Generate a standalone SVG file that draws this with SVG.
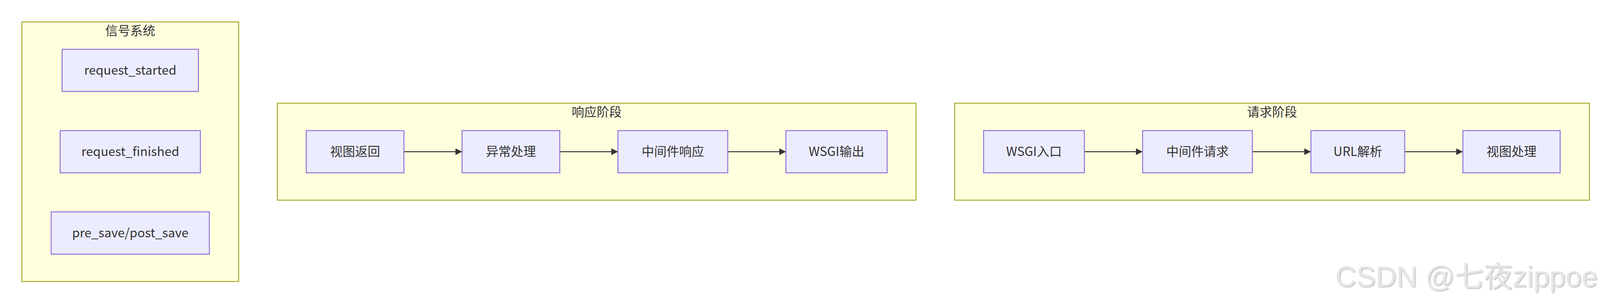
<svg xmlns="http://www.w3.org/2000/svg" width="4124" height="775" viewBox="0 0 4124 775">
<style>
.cluster{fill:#ffffde;stroke:#aaaa33;stroke-width:2.5}
.node{fill:#ececff;stroke:#9370db;stroke-width:2.5}
.lbl{font-family:"Noto Sans CJK SC","Noto Sans",sans-serif;font-size:32px;fill:#333333;text-anchor:middle}
.edge{stroke:#333333;stroke-width:2.5;fill:none}
.wm{font-family:"Liberation Sans","Noto Sans CJK SC",sans-serif;font-size:74px;fill:#e6e6e6;text-anchor:end}
</style>
<defs>
<marker id="arrow" viewBox="0 0 10 10" refX="10" refY="5" markerUnits="userSpaceOnUse" markerWidth="17" markerHeight="17" orient="auto">
<path d="M0,0 L10,5 L0,10 z" fill="#333333"/>
</marker>
<filter id="shadow" x="-5%" y="-20%" width="110%" height="140%">
<feDropShadow dx="2" dy="2" stdDeviation="0.8" flood-color="#a0a0a0" flood-opacity="0.7"/>
</filter>
</defs>
<rect width="4124" height="775" fill="#ffffff"/>

<g id="cluster-signal">
<rect class="cluster" x="56" y="56" width="555" height="664"/>
<text class="lbl" x="333.5" y="90">信号系统</text>
</g>
<g id="cluster-response">
<rect class="cluster" x="710" y="264" width="1635" height="248"/>
<text class="lbl" x="1527.5" y="298">响应阶段</text>
</g>
<g id="cluster-request">
<rect class="cluster" x="2444" y="264" width="1625" height="248"/>
<text class="lbl" x="3256.5" y="298">请求阶段</text>
</g>

<g id="connectors">
<line class="edge" x1="1034" y1="388" x2="1183" y2="388" marker-end="url(#arrow)"/>
<line class="edge" x1="1433" y1="388" x2="1582" y2="388" marker-end="url(#arrow)"/>
<line class="edge" x1="1863" y1="388" x2="2012" y2="388" marker-end="url(#arrow)"/>
<line class="edge" x1="2776" y1="388" x2="2925" y2="388" marker-end="url(#arrow)"/>
<line class="edge" x1="3206" y1="388" x2="3356" y2="388" marker-end="url(#arrow)"/>
<line class="edge" x1="3596" y1="388" x2="3745" y2="388" marker-end="url(#arrow)"/>
</g>

<g id="node-request_started">
<rect class="node" x="159" y="126" width="349" height="108"/>
<text class="lbl" x="333.5" y="191">request_started</text>
</g>
<g id="node-request_finished">
<rect class="node" x="154" y="334" width="359" height="108"/>
<text class="lbl" x="333.5" y="399">request_finished</text>
</g>
<g id="node-pre_save">
<rect class="node" x="131" y="542" width="405" height="108"/>
<text class="lbl" x="333.5" y="607">pre_save/post_save</text>
</g>

<g id="node-view_return">
<rect class="node" x="784" y="334" width="250" height="108"/>
<text class="lbl" x="909" y="399">视图返回</text>
</g>
<g id="node-exception">
<rect class="node" x="1183" y="334" width="250" height="108"/>
<text class="lbl" x="1308" y="399">异常处理</text>
</g>
<g id="node-mw_response">
<rect class="node" x="1582" y="334" width="281" height="108"/>
<text class="lbl" x="1722.5" y="399">中间件响应</text>
</g>
<g id="node-wsgi_out">
<rect class="node" x="2012" y="334" width="259" height="108"/>
<text class="lbl" x="2141.5" y="399">WSGI输出</text>
</g>

<g id="node-wsgi_in">
<rect class="node" x="2518" y="334" width="258" height="108"/>
<text class="lbl" x="2647" y="399">WSGI入口</text>
</g>
<g id="node-mw_request">
<rect class="node" x="2925" y="334" width="281" height="108"/>
<text class="lbl" x="3065.5" y="399">中间件请求</text>
</g>
<g id="node-url">
<rect class="node" x="3356" y="334" width="240" height="108"/>
<text class="lbl" x="3476" y="399">URL解析</text>
</g>
<g id="node-view_process">
<rect class="node" x="3745" y="334" width="249" height="108"/>
<text class="lbl" x="3869.5" y="399">视图处理</text>
</g>

<text class="wm" x="4090" y="733" filter="url(#shadow)">CSDN @七夜zippoe</text>
</svg>
